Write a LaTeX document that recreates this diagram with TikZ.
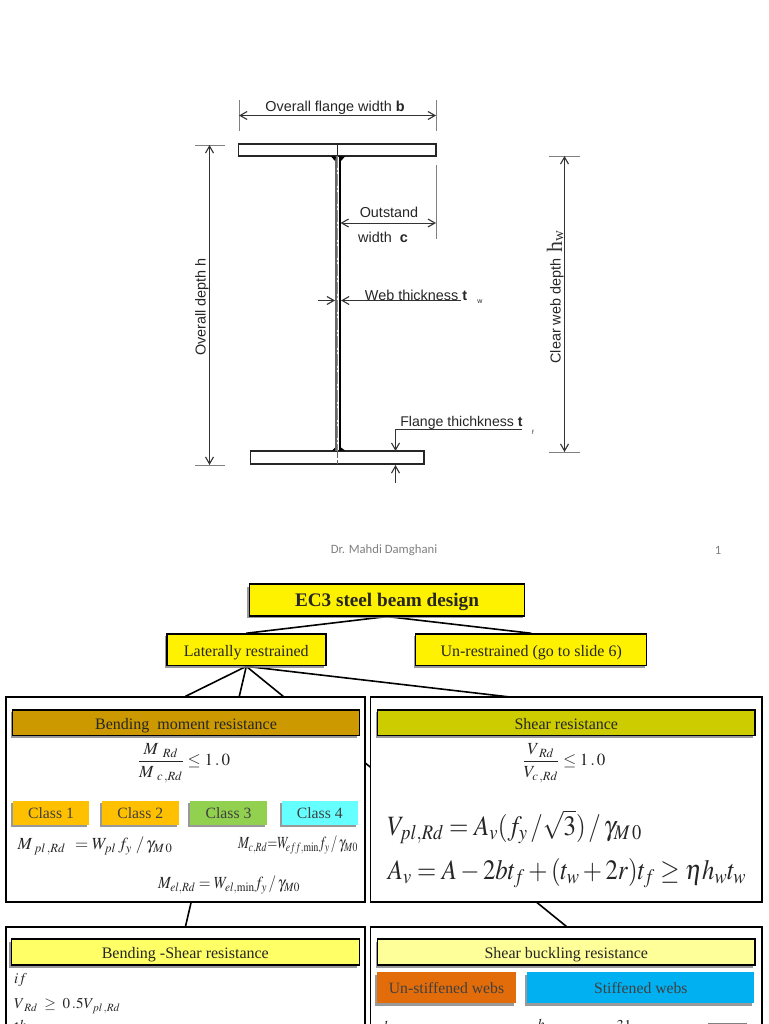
\documentclass[tikz,border=0pt]{standalone}
\usepackage{mathptmx}
\usepackage[no-math]{fontspec}
\setmainfont{Liberation Serif}
\newfontfamily\dimfont{Liberation Sans}
\newfontfamily\footfont{Carlito}
\usetikzlibrary{arrows.meta,shadows,backgrounds}
\newcommand{\fsz}[1]{\fontsize{#1}{#1}\selectfont}
\tikzset{
  barb/.tip={Straight Barb[length=7pt,width=8pt,line width=1.1pt]},
  beamline/.style={draw=black!85,line width=1.3pt},
  dimline/.style={draw=black!80,line width=.9pt},
  extline/.style={draw=black!50,line width=.9pt},
  dimarrow/.style={dimline,barb-barb},
  endarrow/.style={dimline,-barb},
  dimtext/.style={inner sep=0pt,text=black!85,font=\dimfont\fsz{14.4}},
  connector/.style={draw=black,line width=1.6pt},
  sh/.style={drop shadow={shadow xshift=-2pt,shadow yshift=-2.5pt,fill=black!50,opacity=.8}},
  flowbox/.style={draw=black,line width=1.4pt,fill=yellow,inner sep=0pt,sh,text=black!85,text height=12.4pt,text depth=0pt,font=\fsz{16}},
  panel/.style={draw=black,line width=1.3pt,fill=white,inner sep=0pt},
  headbar/.style={draw=black,line width=1.4pt,inner sep=0pt,sh,text=black!85,text height=13pt,text depth=0pt,font=\fsz{16}},
  tagbox/.style={inner sep=0pt,sh,minimum width=76.6pt,minimum height=24.3pt,text=black!75,text height=11pt,text depth=0pt,font=\fsz{15.7}},
  formula/.style={inner sep=0pt,text=black!85,font=\fsz{17}},
  smallformula/.style={inner sep=0pt,text=black!85,font=\fsz{15}},
  bigformula/.style={inner sep=0pt,text=black!85,font=\fsz{28}},
}
\begin{document}
\begin{tikzpicture}[x=1pt,y=-1pt]
\useasboundingbox (0,0) rectangle (768,1024);
\clip (0,0) rectangle (768,1024);

% ---------- I-beam ----------
\draw[beamline] (238.3,144) rectangle (436,156);
\draw[beamline] (250.5,451) rectangle (424,464);
\draw[draw=black!85,line width=.8pt] (337.5,144) -- (337.5,156);
\draw[draw=black!60,line width=.8pt,dash pattern=on 7pt off 2pt] (337.5,451) -- (337.5,464);
\draw[draw=black!60,line width=1.8pt] (335.6,156) -- (335.6,451);
\draw[draw=black,line width=1.8pt] (339.6,156) -- (339.6,451);
\draw[draw=black!45,line width=.9pt,dash pattern=on 12pt off 2pt on 2pt off 2pt] (337.6,156) -- (337.6,451);
\fill[black] (331,156.5) -- (336,156.5) -- (335,161) -- cycle;
\fill[black] (340,156.5) -- (345,156.5) -- (341,161) -- cycle;
\fill[black] (332,450.5) -- (335,447.5) -- (335,450.5) -- cycle;
\fill[black] (341,447.5) -- (345,450.5) -- (341,450.5) -- cycle;

% flange width
\draw[extline] (239,100) -- (239,131);
\draw[extline] (436,100) -- (436,131);
\draw[dimarrow] (239,115.5) -- (436,115.5);
\node[dimtext] (bl) at (335,108) {Overall flange width \textbf{b}};
% outstand
\draw[extline] (436,165) -- (436,239);
\draw[dimarrow] (340.5,223) -- (436,223);
\node[dimtext] (ol) at (389,212) {Outstand};
\node[dimtext] (wl) at (383,237) {width\ \ \textbf{c}};
% overall depth
\draw[extline] (195,145) -- (225,145);
\draw[extline] (195,465) -- (225,465);
\draw[dimarrow] (209.5,145) -- (209.5,465);
\node[dimtext,rotate=90] (hl) at (202,307) {Overall depth h};
% web thickness
\draw[endarrow] (318,300.5) -- (335,300.5);
\draw[endarrow] (461,300.5) -- (341,300.5);
\node[dimtext] (tl) at (416,295) {Web thickness \textbf{t}};
\node[dimtext,font=\dimfont\fsz{7}] (tw) at (480,302) {w};
% flange thickness
\draw[dimline] (522,429) -- (395.5,429);
\draw[endarrow] (395.5,429) -- (395.5,451);
\draw[endarrow] (395.5,483) -- (395.5,465);
\node[dimtext,font=\dimfont\fsz{14.1}] (fl) at (461.5,422.5) {Flange thichkness \textbf{t}};
\node[dimtext,font=\dimfont\fsz{6}] (tf) at (533,432) {f};
% clear web depth
\draw[extline] (549,156) -- (580,156);
\draw[extline] (549,452) -- (580,452);
\draw[dimarrow] (564.5,156) -- (564.5,452);
\node[dimtext,rotate=90] (cl) at (557,311) {Clear web depth};
\node[inner sep=0pt,rotate=90,font=\fsz{22},text=black!80] (hw) at (555,241.5) {h\raisebox{-1pt}{\fsz{15}w}};

% footer
\node[inner sep=0pt,text=black!50,font=\footfont\fsz{12.7}] (ft) at (384,550.5) {Dr. Mahdi Damghani};
\node[inner sep=0pt,text=black!50,font=\footfont\fsz{12.7}] (pg) at (718,550.5) {1};

% ---------- flow chart ----------
\node[flowbox,minimum width=275.4pt,minimum height=31.7pt,text height=12pt,font=\fsz{19.2}\bfseries] (title) at (387,600) {EC3 steel beam design};
\node[flowbox,minimum width=159pt,minimum height=31.7pt] (lat) at (246.3,649.8) {Laterally restrained};
\node[flowbox,minimum width=231pt,minimum height=31.7pt] (unr) at (531.2,649.8) {Un-restrained (go to slide 6)};

\node[panel,minimum width=359pt,minimum height=205pt] (box1) at (185.5,799.5) {};
\node[panel,minimum width=391.3pt,minimum height=205pt] (box2) at (566.3,799.5) {};
\node[panel,minimum width=359pt,minimum height=200pt] (box3) at (185.5,1027) {};
\node[panel,minimum width=391.3pt,minimum height=200pt] (box4) at (566.3,1027) {};
\coordinate (box2top) at (510,697);

\begin{scope}[on background layer]
\fill[white] (0,0) rectangle (768,1024);
\draw[connector] (title.south) -- (lat.north);
\draw[connector] (title.south) -- (unr.north);
\draw[connector] (lat.south) -- (box1.north);
\draw[connector] (lat.south) -- (box2top);
\draw[connector] (lat.south) -- (box3.north);
\draw[connector] (lat.south) -- (box4.north);
\end{scope}

\node[headbar,fill={rgb,255:red,204;green,153;blue,0},minimum width=346.6pt,minimum height=25.7pt] (bar1) at (186,722.8) {Bending\ \ moment resistance};
\node[headbar,fill={rgb,255:red,204;green,204;blue,0},minimum width=377.3pt,minimum height=25.7pt] (bar2) at (566.3,722.8) {Shear resistance};
\node[headbar,fill={rgb,255:red,255;green,255;blue,102},minimum width=348pt,minimum height=26pt] (bar3) at (185.3,952) {Bending -Shear resistance};
\node[headbar,fill={rgb,255:red,255;green,255;blue,153},minimum width=377.3pt,minimum height=26pt] (bar4) at (566.3,952) {Shear buckling resistance};

\node[tagbox,fill={rgb,255:red,255;green,192;blue,0}] (c1) at (51,812.8) {Class 1};
\node[tagbox,fill={rgb,255:red,255;green,192;blue,0}] (c2) at (140.3,812.8) {Class 2};
\node[tagbox,fill={rgb,255:red,146;green,208;blue,80}] (c3) at (228.5,812.8) {Class 3};
\node[tagbox,fill={rgb,255:red,102;green,255;blue,255}] (c4) at (319.8,812.8) {Class 4};

\node[tagbox,fill={rgb,255:red,227;green,108;blue,10},minimum width=138.4pt,minimum height=31pt,text height=12pt] (uw) at (446.5,987.5) {Un-stiffened webs};
\node[tagbox,fill={rgb,255:red,0;green,176;blue,240},minimum width=227pt,minimum height=31pt,text height=12pt] (sw) at (640.8,987.5) {Stiffened webs};

% formulas
\node[formula] (f1) at (184,763) {$\displaystyle\frac{M_{\;\;Rd}}{M_{\;\,c\,,Rd}}\leq 1\,.\,0$};
\node[formula] (f2) at (95,846) {$M_{\;pl\,,Rd}\;\,=W_{pl}\,f_y\;/\,\gamma_{M\,0}$};
\node[formula] (f3) at (298,845) {\scalebox{.765}[1]{$M_{c,Rd}{=}W_{\!eff,\min}f_y\,/\,\gamma_{M0}$}};
\node[formula] (f4) at (229,885) {\scalebox{.89}[1]{$M_{el,Rd}=W_{el,\min}f_y\,/\,\gamma_{M0}$}};
\node[formula] (f5) at (564,763) {$\displaystyle\frac{V_{\;Rd}}{V_{c\,,Rd}}\leq 1\,.\,0$};
\node[bigformula] (f6) at (514.5,827) {\scalebox{.89}[1]{$V_{pl,Rd}=A_v(f_y\,/\sqrt{3})\,/\,\gamma_{M\,0}$}};
\node[bigformula] (f7) at (567,873) {\scalebox{.883}[1]{$A_v=A-2bt_f+(t_w+2r)t_f\geq\eta h_w t_w$}};
\node[smallformula,anchor=west] (f8) at (14,980) {$if$};
\node[smallformula,anchor=west] (f9) at (14,1006) {$V_{\;Rd}\;\geq\;0\,.5V_{\,pl\,,Rd}$};
\node[smallformula,anchor=north west] (f10) at (14,1020) {$th$};
\node[smallformula,anchor=north] (f11) at (387,1020.5) {$h$};
\node[smallformula,anchor=north] (f12) at (541,1019) {$h$};
\node[smallformula,anchor=north] (f13) at (624,1020) {$31$};
\draw[draw=black!50,line width=.8pt] (708,1023.3) -- (747,1023.3);
\end{tikzpicture}
\end{document}
